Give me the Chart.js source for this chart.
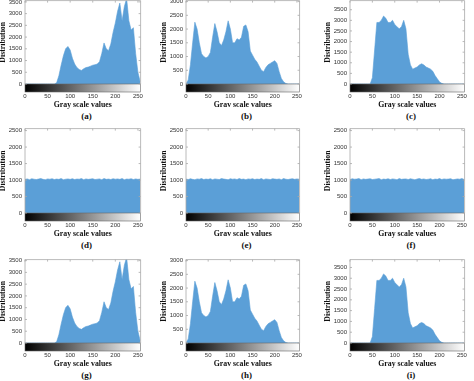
<!DOCTYPE html>
<html>
<head>
<meta charset="utf-8">
<script src="https://cdn.jsdelivr.net/npm/chart.js@4.4.0/dist/chart.umd.min.js"></script>
<style>
  html, body { margin: 0; padding: 0; background: #fff; }
  #fig { position: relative; width: 474px; height: 381px; overflow: hidden; }
  #fig canvas { position: absolute; }
  .sub { position: absolute; text-align: center; font: bold 9px "Liberation Serif", serif; line-height: 10px; color: #111; }
</style>
</head>
<body>
<div id="fig"></div>
<script>
// ─── data: gray level samples and histogram counts ───────────────────────────

const GRAY = [0, 5, 10, 15, 20, 25, 30, 35, 40, 45, 50, 55, 60, 65, 70, 75, 80, 85, 90, 95,
  100, 105, 110, 115, 120, 125, 130, 135, 140, 145, 150, 155, 160, 165, 170, 175, 180, 185, 190, 195,
  200, 205, 210, 215, 220, 225, 230, 235, 240, 245, 250, 255];

// original images (a)/(b)/(c), decrypted images (g)/(h)/(i) are identical
const HIST_1 = [0, 0, 0, 0, 0, 0, 0, 0, 0, 0, 0, 0, 0, 0, 50, 350, 800, 1200, 1500, 1600,
  1450, 1100, 850, 700, 620, 580, 650, 700, 720, 760, 800, 820, 850, 950, 1300, 1750, 1500, 1420, 1700, 2200,
  2600, 3100, 3450, 2700, 3300, 3650, 2700, 2300, 2400, 1300, 500, 100];

const HIST_2 = [0, 150, 700, 1500, 2250, 2000, 1500, 1100, 1000, 950, 1000, 1150, 1700, 2200, 1900, 1500, 1400, 1600, 1900, 2300,
  2000, 1500, 1500, 1650, 1600, 1700, 2100, 2150, 1900, 1200, 1050, 900, 800, 650, 500, 450, 600, 700, 750, 800,
  850, 750, 450, 200, 80, 20, 0, 0, 0, 0, 0, 0];

const HIST_3 = [0, 0, 0, 0, 0, 0, 0, 0, 0, 0, 300, 1600, 2900, 2900, 3000, 3200, 3100, 2900, 2900, 3000,
  2800, 2700, 2600, 2700, 3000, 2600, 1400, 900, 700, 750, 800, 900, 950, 900, 800, 750, 700, 600, 400, 250,
  100, 30, 0, 0, 0, 0, 0, 0, 0, 0, 0, 0];

// encrypted images (d)/(e)/(f): nearly flat
const HIST_D = [1020, 1035, 1010, 1040, 1025, 1015, 1030, 1045, 1020, 1010, 1035, 1025, 1040, 1015, 1030, 1020, 1045, 1010, 1025, 1035,
  1020, 1040, 1015, 1030, 1025, 1045, 1010, 1035, 1020, 1030, 1040, 1015, 1025, 1035, 1010, 1045, 1020, 1030, 1015, 1040,
  1025, 1035, 1020, 1045, 1010, 1030, 1025, 1040, 1015, 1035, 1020, 1030];
const HIST_E = [1030, 1015, 1040, 1020, 1010, 1035, 1025, 1045, 1015, 1030, 1020, 1040, 1010, 1035, 1025, 1015, 1045, 1030, 1020, 1010,
  1040, 1025, 1035, 1015, 1045, 1020, 1030, 1010, 1035, 1025, 1040, 1015, 1030, 1020, 1045, 1010, 1035, 1025, 1015, 1040,
  1030, 1020, 1035, 1010, 1045, 1025, 1015, 1030, 1040, 1020, 1035, 1025];
const HIST_F = [1015, 1040, 1025, 1030, 1045, 1010, 1035, 1020, 1030, 1040, 1015, 1025, 1035, 1045, 1010, 1030, 1020, 1040, 1015, 1035,
  1025, 1010, 1045, 1020, 1030, 1035, 1015, 1040, 1025, 1010, 1030, 1045, 1020, 1035, 1015, 1025, 1040, 1010, 1030, 1020,
  1045, 1015, 1035, 1025, 1030, 1040, 1010, 1020, 1035, 1025, 1045, 1015];

const X_TICKS = [0, 50, 100, 150, 200, 250];
const Y_TICKS_3500 = [0, 500, 1000, 1500, 2000, 2500, 3000, 3500];
const Y_TICKS_3000 = [0, 500, 1000, 1500, 2000, 2500, 3000];
const Y_TICKS_2500 = [0, 500, 1000, 1500, 2000, 2500];

const LABELS = ['a', 'b', 'c', 'd', 'e', 'f', 'g', 'h', 'i'];
const X_TITLES = ['Gray scale values', 'Grav scale values', 'Gray scale values'];

// ─── layout ──────────────────────────────────────────────────────────────────

const COLS = [[25, 148], [186, 307], [350, 472]];   // plot left/right
const ROWS = [[0, 84], [128, 213], [259, 343]];     // plot top/bottom
const AXIS_W = 27, AXIS_H = 26, PAD_T = 6, PAD_R = 4;
const BAR = '#5b9fd7';
const FRAME = '#a8a8a8';
const SERIF = '"Liberation Serif", "Times New Roman", serif';

const PANELS = [
  { data: HIST_1, yMax: 3555, yTicks: Y_TICKS_3500 },
  { data: HIST_2, yMax: 3036, yTicks: Y_TICKS_3000 },
  { data: HIST_3, yMax: 3930, yTicks: Y_TICKS_3500 },
  { data: HIST_D, yMax: 2560, yTicks: Y_TICKS_2500 },
  { data: HIST_E, yMax: 2560, yTicks: Y_TICKS_2500 },
  { data: HIST_F, yMax: 2560, yTicks: Y_TICKS_2500 },
  { data: HIST_1, yMax: 3543, yTicks: Y_TICKS_3500 },
  { data: HIST_2, yMax: 3036, yTicks: Y_TICKS_3000 },
  { data: HIST_3, yMax: 3864, yTicks: Y_TICKS_3500 },
];

/** Frame box, inward ticks and the gray colour bar under the plot. */
const framePlugin = {
  id: 'frame',
  afterDatasetsDraw(chart) {
    const { ctx, chartArea: a, scales } = chart;
    ctx.save();
    // colour bar
    const g = ctx.createLinearGradient(a.left, 0, a.right, 0);
    g.addColorStop(0, '#000');
    g.addColorStop(1, '#fff');
    ctx.fillStyle = g;
    ctx.fillRect(a.left, a.bottom, a.right - a.left, 8);
    ctx.strokeStyle = '#666';
    ctx.lineWidth = 0.6;
    ctx.strokeRect(a.left, a.bottom, a.right - a.left, 8);
    // box
    ctx.strokeStyle = FRAME;
    ctx.lineWidth = 0.8;
    ctx.beginPath();
    ctx.moveTo(a.left, a.bottom);
    ctx.lineTo(a.left, a.top);
    ctx.lineTo(a.right, a.top);
    ctx.lineTo(a.right, a.bottom);
    ctx.stroke();
    // inward ticks
    ctx.beginPath();
    scales.x.ticks.forEach(t => {
      const px = scales.x.getPixelForValue(t.value);
      ctx.moveTo(px, a.top); ctx.lineTo(px, a.top + 2);
    });
    scales.y.ticks.forEach(t => {
      const py = scales.y.getPixelForValue(t.value);
      ctx.moveTo(a.left, py); ctx.lineTo(a.left + 2, py);
      ctx.moveTo(a.right, py); ctx.lineTo(a.right - 2, py);
    });
    ctx.stroke();
    ctx.restore();
  },
};

function makePanel(i) {
  const p = PANELS[i];
  const col = i % 3, row = Math.floor(i / 3);
  const [l, r] = COLS[col], [t, b] = ROWS[row];
  const fig = document.getElementById('fig');

  const canvas = document.createElement('canvas');
  const w = AXIS_W + (r - l) + PAD_R;
  const h = PAD_T + (b - t) + AXIS_H;
  canvas.width = w; canvas.height = h;
  canvas.style.left = (l - AXIS_W) + 'px';
  canvas.style.top = (t - PAD_T) + 'px';
  canvas.style.width = w + 'px';
  canvas.style.height = h + 'px';
  fig.appendChild(canvas);

  const sub = document.createElement('div');
  sub.className = 'sub';
  sub.textContent = '(' + LABELS[i] + ')';
  sub.style.left = l + 'px';
  sub.style.width = (r - l) + 'px';
  sub.style.top = (b + 27) + 'px';
  fig.appendChild(sub);

  const tickFont = { family: '"Liberation Sans", Arial, sans-serif', size: 6 };
  const titleFont = { family: SERIF, size: 7.8, weight: 'bold', lineHeight: 1.2 };

  new Chart(canvas.getContext('2d'), {
    type: 'line',
    data: {
      datasets: [{
        data: GRAY.map((g, k) => ({ x: g, y: p.data[k] })),
        fill: 'origin',
        backgroundColor: BAR,
        borderColor: BAR,
        borderWidth: 0.6,
        pointRadius: 0,
        tension: 0,
      }],
    },
    options: {
      responsive: false,
      animation: false,
      devicePixelRatio: 1,
      layout: { padding: { top: PAD_T, right: PAD_R, left: 0, bottom: 0 } },
      plugins: { legend: { display: false }, tooltip: { enabled: false } },
      scales: {
        x: {
          type: 'linear', min: 0, max: 256,
          grid: { display: false, drawTicks: false },
          border: { display: false },
          afterBuildTicks: s => { s.ticks = X_TICKS.map(v => ({ value: v })); },
          afterFit: s => { s.height = AXIS_H; },
          ticks: { padding: 9, font: tickFont, color: '#333', maxRotation: 0, autoSkip: false, callback: v => String(v) },
          title: { display: true, text: X_TITLES[col], font: titleFont, color: '#111', padding: 0 },
        },
        y: {
          min: 0, max: p.yMax,
          grid: { display: false, drawTicks: false },
          border: { display: false },
          afterBuildTicks: s => { s.ticks = p.yTicks.map(v => ({ value: v })); },
          afterFit: s => { s.width = AXIS_W; },
          ticks: { padding: 3, font: tickFont, color: '#333', autoSkip: false, callback: v => String(v) },
          title: { display: true, text: 'Distribution', font: titleFont, color: '#111', padding: 0 },
        },
      },
    },
    plugins: [framePlugin],
  });
}

PANELS.forEach((_, i) => makePanel(i));
</script>
</body>
</html>
